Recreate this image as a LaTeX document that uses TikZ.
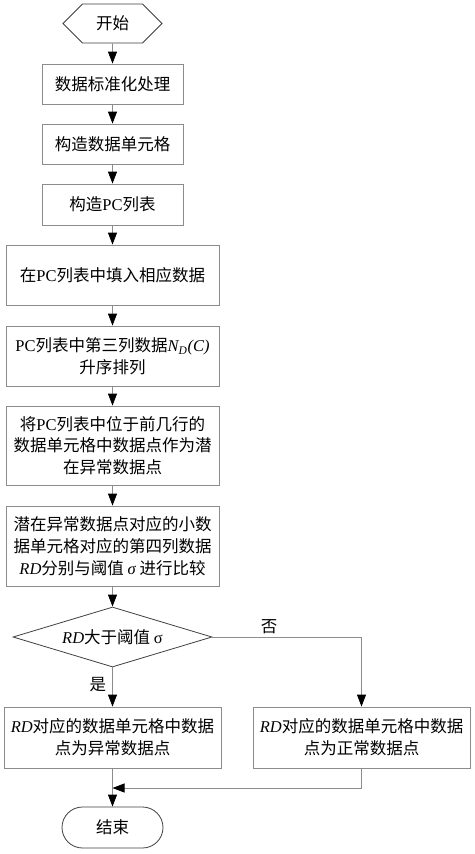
\documentclass[tikz,border=0pt]{standalone}
\usepackage{fontspec}
\setmainfont{Liberation Serif}
\newfontfamily\cjk{Noto Sans CJK SC}
\usetikzlibrary{shapes.geometric,shapes.symbols,shapes.misc,arrows.meta}
\begin{document}
\begin{tikzpicture}[x=1pt,y=-1pt,
  every node/.style={font=\fontsize{16.5pt}{21.7pt}\selectfont\cjk, align=center, inner sep=0pt},
  procbox/.style={draw=black!45, line width=0.8pt, minimum height=#1, text centered},
  narrow/.style={procbox=40pt, minimum width=141pt},
  wide/.style={procbox=#1, minimum width=213pt},
  outbox/.style={draw=black!45, line width=0.8pt, minimum width=217pt, minimum height=61pt},
  flow/.style={draw=black!45, line width=0.8pt, -{Triangle[width=9pt,length=12pt,color=black]}},
  lbl/.style={font=\fontsize{16.5pt}{18pt}\selectfont\cjk}
]
\useasboundingbox (0,0) rectangle (474,854);
\fill[white] (0,0) rectangle (474,854);
\node[draw=black!75, line width=0.8pt, shape=signal, signal to=west and east, minimum width=99pt, minimum height=39pt] (start) at (112.5,23.5) {开始};
\node[narrow] (b1) at (112.5,84) {数据标准化处理};
\node[narrow] (b2) at (112.5,144) {构造数据单元格};
\node[narrow, minimum height=41pt] (b3) at (112.5,204.5) {构造{\rmfamily PC}列表};
\node[wide=60pt] (b4) at (112.5,275) {在{\rmfamily PC}列表中填入相应数据};
\node[wide=60pt] (b5) at (112.5,356) {{\rmfamily PC}列表中第三列数据{\rmfamily\itshape N\textsubscript{D}(C)}\\升序排列};
\node[wide=79pt] (b6) at (112.5,445.5) {将{\rmfamily PC}列表中位于前几行的\\数据单元格中数据点作为潜\\在异常数据点};
\node[wide=80pt] (b7) at (112.5,546) {潜在异常数据点对应的小数\\据单元格对应的第四列数据\\{\rmfamily\itshape RD}分别与阈值 {\rmfamily\itshape σ} 进行比较};
\node[draw=black!75, line width=0.8pt, shape=diamond, aspect=3.3, minimum width=199pt, minimum height=60pt] (dec) at (112.5,637) {{\rmfamily\itshape RD}大于阈值 {\rmfamily σ}};
\node[outbox] (yes) at (112.5,737.5) {{\rmfamily\itshape RD}对应的数据单元格中数据\\点为异常数据点};
\node[outbox] (no) at (361.5,737.5) {{\rmfamily\itshape RD}对应的数据单元格中数据\\点为正常数据点};
\node[draw=black!75, line width=0.8pt, shape=rounded rectangle, minimum width=101pt, minimum height=41pt] (stop) at (112.5,827.5) {结束};
\coordinate (merge) at (112.5,788);
\draw[flow] (start) -- (b1);
\draw[flow] (b1) -- (b2);
\draw[flow] (b2) -- (b3);
\draw[flow] (b3) -- (b4);
\draw[flow] (b4) -- (b5);
\draw[flow] (b5) -- (b6);
\draw[flow] (b6) -- (b7);
\draw[flow] (b7) -- (dec);
\draw[flow] (dec) -- node[lbl, pos=0.45, left=6pt] {是} (yes);
\draw[flow] (dec.east) -| node[lbl, pos=0.19, above=3pt] {否} (no.north);
\draw[flow] (yes) -- (stop);
\draw[flow] (no.south) |- (merge);
\end{tikzpicture}
\end{document}
